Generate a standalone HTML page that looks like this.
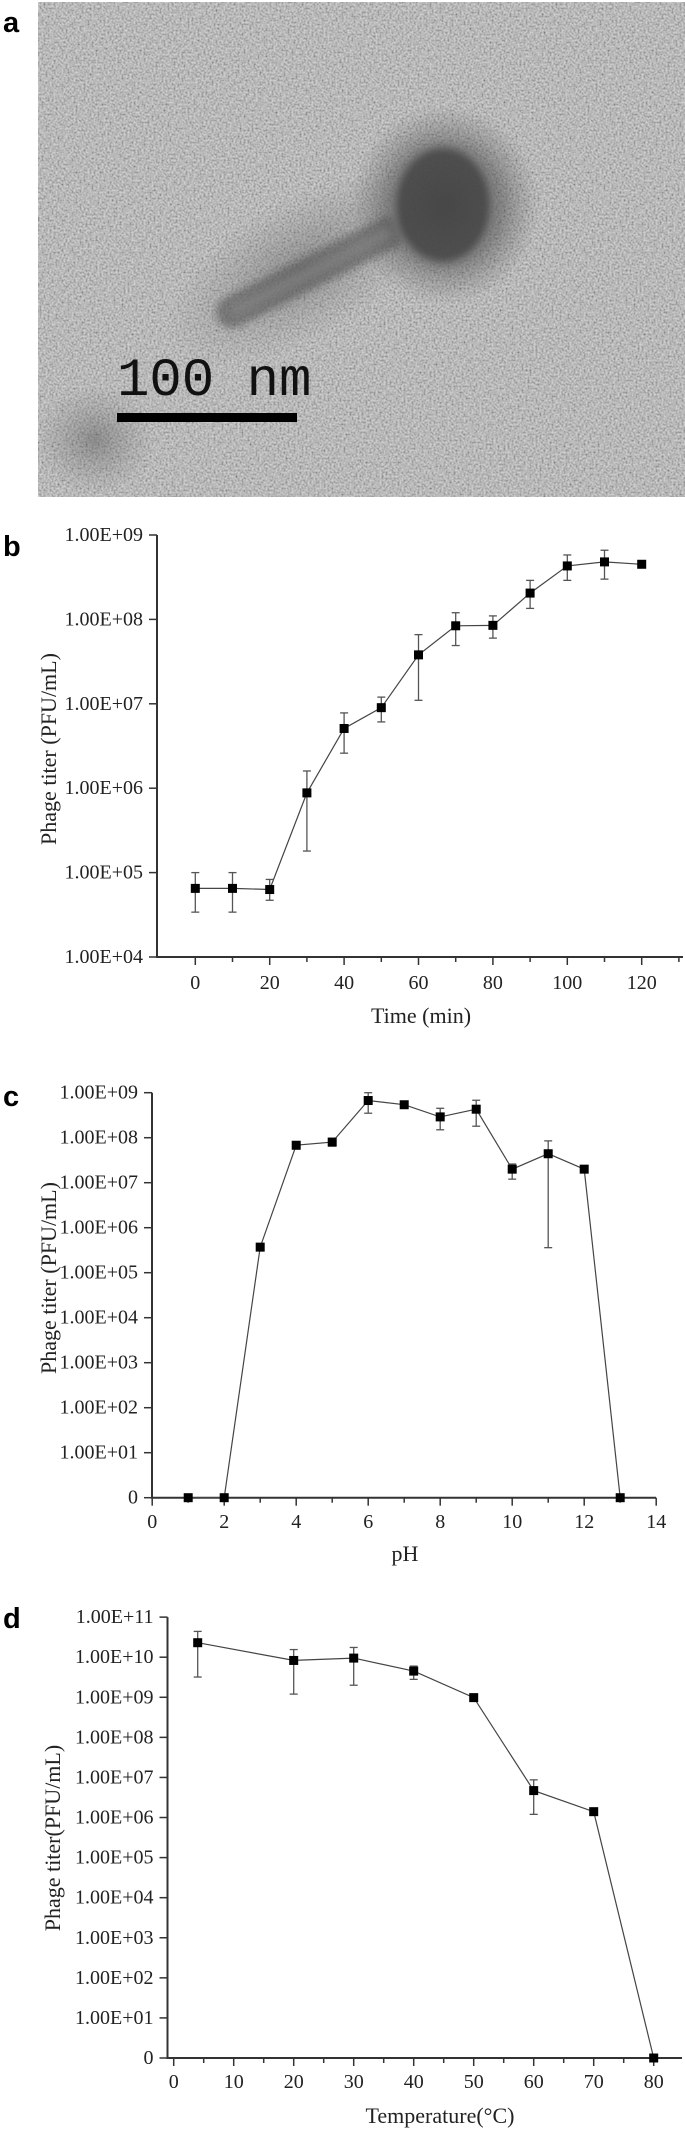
<!DOCTYPE html>
<html><head><meta charset="utf-8">
<style>
html,body{margin:0;padding:0;background:#fff;}
svg{display:block;}
text{font-family:"Liberation Serif",serif;fill:#222;}
.lbl{font-family:"Liberation Sans",sans-serif;font-weight:bold;fill:#000;}
</style></head>
<body>
<svg id="fig" width="685" height="2132" viewBox="0 0 685 2132" xmlns="http://www.w3.org/2000/svg">
<defs>
<filter id="noise" x="0" y="0" width="100%" height="100%">
<feTurbulence type="fractalNoise" baseFrequency="0.5" numOctaves="2" seed="3"/>
<feColorMatrix type="matrix" values="1.6 0 0 0 -0.2  1.6 0 0 0 -0.2  1.6 0 0 0 -0.2  0 0 0 0 0.45"/>
</filter>
<filter id="blur4" x="-50%" y="-50%" width="200%" height="200%"><feGaussianBlur stdDeviation="4"/></filter>
<radialGradient id="halo" cx="0.5" cy="0.5" r="0.5">
<stop offset="0" stop-color="#303030" stop-opacity="0.8"/>
<stop offset="0.6" stop-color="#404040" stop-opacity="0.45"/>
<stop offset="1" stop-color="#606060" stop-opacity="0"/>
</radialGradient>
<radialGradient id="halo2" cx="0.5" cy="0.5" r="0.5">
<stop offset="0" stop-color="#505050" stop-opacity="0.45"/>
<stop offset="1" stop-color="#707070" stop-opacity="0"/>
</radialGradient>
</defs>

<g>
<rect x="38" y="2" width="647" height="495" fill="#a9a9a9"/>
<rect x="38" y="2" width="647" height="495" filter="url(#noise)"/>
<ellipse cx="95" cy="440" rx="60" ry="55" fill="url(#halo2)"/>
<ellipse cx="300" cy="270" rx="150" ry="70" fill="url(#halo2)" transform="rotate(-30 300 270)"/>
<ellipse cx="445" cy="205" rx="95" ry="100" fill="url(#halo)"/>
<line x1="390" y1="232" x2="232" y2="312" stroke="#555" stroke-width="32" stroke-linecap="round" opacity="0.6" filter="url(#blur4)"/>
<line x1="390" y1="232" x2="232" y2="312" stroke="#8a8a8a" stroke-width="12" opacity="0.5" filter="url(#blur4)"/>
<ellipse cx="443" cy="205" rx="50" ry="60" fill="#474747" stroke="#8c8c8c" stroke-width="3" opacity="0.85" filter="url(#blur4)"/>
<text x="117" y="395" style="font-family:'Liberation Mono',monospace;font-size:54px;fill:#111">100 nm</text>
<rect x="117" y="413" width="180" height="9" fill="#000"/>
</g>
<text class="lbl" x="3" y="32" font-size="29">a</text>
<text class="lbl" x="3" y="556" font-size="29">b</text>
<text class="lbl" x="3" y="1106" font-size="29">c</text>
<text class="lbl" x="3" y="1628" font-size="29">d</text>
<g id="charts"></g>
</svg>
<script>
// Panel b: one-step growth
const bTime = [0,10,20,30,40,50,60,70,80,90,100,110,120];
const bTiter = [6.5e4,6.5e4,6.3e4,8.8e5,5.1e6,9e6,3.8e7,8.4e7,8.5e7,2.05e8,4.3e8,4.8e8,4.5e8];
const bErrHigh = [1e5,1e5,8.3e4,1.6e6,7.8e6,1.2e7,6.6e7,1.2e8,1.1e8,2.9e8,5.8e8,6.6e8,4.8e8];
const bErrLow = [3.4e4,3.4e4,4.7e4,1.8e5,2.6e6,6.1e6,1.1e7,4.9e7,6e7,1.35e8,2.9e8,3e8,4.2e8];
const bYTicks = ["1.00E+04","1.00E+05","1.00E+06","1.00E+07","1.00E+08","1.00E+09"];
const bXTicks = [0,20,40,60,80,100,120];
// Panel c: pH stability
const cPH = [1,2,3,4,5,6,7,8,9,10,11,12,13];
const cTiter = [0,0,3.7e5,6.8e7,8e7,6.7e8,5.4e8,2.9e8,4.3e8,2e7,4.4e7,2e7,0];
const cErrHigh = [0,0,3.7e5,7.6e7,9.5e7,1e9,5.8e8,4.5e8,6.8e8,2.6e7,8.5e7,2.1e7,0];
const cErrLow = [0,0,3.7e5,5.6e7,6.5e7,3.5e8,5e8,1.5e8,1.8e8,1.2e7,3.6e5,1.9e7,0];
const cYTicks = ["0","1.00E+01","1.00E+02","1.00E+03","1.00E+04","1.00E+05","1.00E+06","1.00E+07","1.00E+08","1.00E+09"];
const cXTicks = [0,2,4,6,8,10,12,14];
// Panel d: thermal stability
const dTemp = [4,20,30,40,50,60,70,80];
const dTiter = [2.3e10,8.3e9,9.5e9,4.5e9,9.8e8,4.7e6,1.4e6,0];
const dErrHigh = [4.4e10,1.55e10,1.75e10,6e9,1.05e9,8.7e6,1.5e6,0];
const dErrLow = [3.2e9,1.2e9,2e9,2.8e9,9.2e8,1.2e6,1.3e6,0];
const dYTicks = ["0","1.00E+01","1.00E+02","1.00E+03","1.00E+04","1.00E+05","1.00E+06","1.00E+07","1.00E+08","1.00E+09","1.00E+10","1.00E+11"];
const dXTicks = [0,10,20,30,40,50,60,70,80];

const NS = "http://www.w3.org/2000/svg";
const root = document.getElementById('charts');
function mk(tag, attrs, parent){
  const e = document.createElementNS(NS, tag);
  for (const k in attrs) e.setAttribute(k, attrs[k]);
  (parent||root).appendChild(e);
  return e;
}
function chart(cfg){
  const g = mk('g', {});
  
  
  const X = v => cfg.x0 + (v - cfg.xmin) * cfg.xs;
  const lg = v => (v <= 1 ? 0 : Math.log10(v));
  const Y = v => cfg.yBase - (lg(v) - cfg.yminExp) * cfg.dec;
  const yTop = cfg.yBase - (cfg.yTicks.length - 1) * cfg.dec;
  const ya = mk('line', {x1:cfg.ax, y1:yTop, x2:cfg.ax, y2:cfg.yBase+1, stroke:'#333', 'stroke-width':2}, g);
  
  
  const xa = mk('line', {x1:cfg.ax, y1:cfg.yBase, x2:cfg.xr, y2:cfg.yBase, stroke:'#333', 'stroke-width':2}, g);
  
  
  cfg.yTicks.forEach((t, i) => {
    const y = cfg.yBase - i * cfg.dec;
    mk('line', {x1:cfg.ax-8, y1:y, x2:cfg.ax, y2:y, stroke:'#333', 'stroke-width':1.5}, g);
    const tx = mk('text', {x:cfg.ax-14, y:y+6, 'font-size':20, 'text-anchor':'end'}, g);
    tx.textContent = t;
    
    
  });
  cfg.xTicks.forEach(t => {
    const x = X(t);
    mk('line', {x1:x, y1:cfg.yBase, x2:x, y2:cfg.yBase+8, stroke:'#333', 'stroke-width':1.5}, g);
    const tx = mk('text', {x:x, y:cfg.xLabY, 'font-size':20, 'text-anchor':'middle'}, g);
    tx.textContent = t;
    
    
  });
  const step = cfg.xTicks[1] - cfg.xTicks[0];
  for (let i = 0; i < cfg.xTicks.length - 1; i++) {
    const x = X(cfg.xTicks[i] + step/2);
    mk('line', {x1:x, y1:cfg.yBase, x2:x, y2:cfg.yBase+5, stroke:'#333', 'stroke-width':1.5}, g);
  }
  if (cfg.extraMinor !== undefined) {
    const x = X(cfg.extraMinor);
    mk('line', {x1:x, y1:cfg.yBase, x2:x, y2:cfg.yBase+5, stroke:'#333', 'stroke-width':1.5}, g);
  }
  const xt = mk('text', {x:cfg.xtX, y:cfg.xtY, 'font-size':22, 'text-anchor':'middle'}, g);
  xt.textContent = cfg.xTitle;
  
  
  const yt = mk('text', {x:0, y:0, 'font-size':22, 'text-anchor':'middle', transform:`translate(${cfg.ytX},${cfg.ytY}) rotate(-90)`}, g);
  yt.textContent = cfg.yTitle;
  
  
  const pts = cfg.xs_.map((v, i) => X(v).toFixed(1) + ',' + Y(cfg.ys_[i]).toFixed(1)).join(' ');
  const pl = mk('polyline', {points:pts, fill:'none', stroke:'#444', 'stroke-width':1.2}, g);
  
  
  cfg.xs_.forEach((v, i) => {
    const x = X(v);
    const yh = Y(cfg.hi[i]), yl = Y(cfg.lo[i]);
    if (Math.abs(yl - yh) > 2) {
      const eb = mk('g', {stroke:'#555', 'stroke-width':1.3}, g);
      
      
      mk('line', {x1:x, y1:yh, x2:x, y2:yl}, eb);
      mk('line', {x1:x-4, y1:yh, x2:x+4, y2:yh}, eb);
      mk('line', {x1:x-4, y1:yl, x2:x+4, y2:yl}, eb);
    }
    const m = mk('rect', {x:x-4.5, y:Y(cfg.ys_[i])-4.5, width:9, height:9, fill:'#000'}, g);
    
    
  });
}
chart({name:'panel-b-growth-chart', x0:195.3, xmin:0, xs:3.72, ax:157, xr:683, yBase:957, yminExp:4, dec:84.4,
  yTicks:bYTicks, xTicks:bXTicks, extraMinor:130, xLabY:989, xTitle:'Time (min)', xtX:421, xtY:1023,
  yTitle:'Phage titer (PFU/mL)', ytX:56, ytY:749, xs_:bTime, ys_:bTiter, hi:bErrHigh, lo:bErrLow});
chart({name:'panel-c-ph-chart', x0:152.2, xmin:0, xs:36, ax:152, xr:656, yBase:1497.7, yminExp:0, dec:45.0,
  yTicks:cYTicks, xTicks:cXTicks, xLabY:1528, xTitle:'pH', xtX:405, xtY:1561,
  yTitle:'Phage titer (PFU/mL)', ytX:56, ytY:1278, xs_:cPH, ys_:cTiter, hi:cErrHigh, lo:cErrLow});
chart({name:'panel-d-temperature-chart', x0:173.7, xmin:0, xs:6.0, ax:167.5, xr:682, yBase:2058, yminExp:0, dec:40.08,
  yTicks:dYTicks, xTicks:dXTicks, xLabY:2088, xTitle:'Temperature(\u00B0C)', xtX:440, xtY:2123,
  yTitle:'Phage titer(PFU/mL)', ytX:60, ytY:1838, xs_:dTemp, ys_:dTiter, hi:dErrHigh, lo:dErrLow});
</script>
</body></html>
